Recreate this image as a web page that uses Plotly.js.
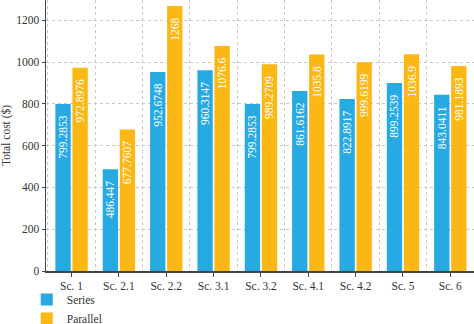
<!DOCTYPE html>
<html>
<head>
<meta charset="utf-8">
<script src="https://cdn.plot.ly/plotly-3.0.1.min.js"></script>
<style>html,body{margin:0;padding:0;background:#fff}#chart{width:474px;height:324px}</style>
</head>
<body>
<div id="chart"></div>
<script>
const categories = ["Sc. 1","Sc. 2.1","Sc. 2.2","Sc. 3.1","Sc. 3.2","Sc. 4.1","Sc. 4.2","Sc. 5","Sc. 6"];
const seriesValues = [799.2853, 486.447, 952.6748, 960.3147, 799.2853, 861.6162, 822.8917, 899.2539, 843.0411];
const parallelValues = [972.8976, 677.7607, 1268, 1076.6, 989.2709, 1035.8, 999.6199, 1036.9, 981.1893];
const yTicks = [0, 200, 400, 600, 800, 1000, 1200];

const idx = categories.map((_, i) => i);
const serif = "Liberation Serif, Times New Roman, serif";
const pad = "\u00a0\u00a0\u00a0";

const common = {
  type: "bar",
  x: idx,
  textposition: "inside",
  insidetextanchor: "end",
  textangle: -90,
  constraintext: "none",
  textfont: {family: serif, size: 11.5, color: "#ffffff"},
  hoverinfo: "none"
};

const traces = [
  Object.assign({}, common, {
    name: "Series",
    y: seriesValues,
    text: seriesValues.map(v => String(v) + pad),
    marker: {color: "#27a9e1"}
  }),
  Object.assign({}, common, {
    name: "Parallel",
    y: parallelValues,
    text: parallelValues.map(v => String(v) + pad),
    marker: {color: "#fbb814"}
  })
];

const layout = {
  width: 474, height: 324,
  margin: {l: 46, r: 0, t: 0, b: 53, autoexpand: false},
  paper_bgcolor: "#fff", plot_bgcolor: "#fff",
  barmode: "group",
  bargap: 0.28,
  bargroupgap: 0.1,
  font: {family: serif, size: 11, color: "#333"},
  showlegend: true,
  legend: {
    x: -0.045, y: -0.052, xanchor: "left", yanchor: "top",
    orientation: "v",
    font: {family: serif, size: 11.5, color: "#333"},
    itemwidth: 30,
    tracegroupgap: 0,
    borderwidth: 0,
    bgcolor: "rgba(0,0,0,0)"
  },
  xaxis: {
    range: [-0.54, 8.5],
    tickvals: idx,
    ticktext: categories,
    showgrid: false,
    zeroline: false,
    showline: true, linecolor: "#444", linewidth: 1.5,
    ticks: "outside", ticklen: 4, tickcolor: "#444",
    tickfont: {family: serif, size: 11.5, color: "#333"},
    minor: {tick0: 0.5, dtick: 1, showgrid: true, gridcolor: "#c8c8c8", griddash: "dot", gridwidth: 1, ticks: ""}
  },
  yaxis: {
    range: [0, 1297],
    tickvals: yTicks,
    showgrid: true, gridcolor: "#c8c8c8", griddash: "dot", gridwidth: 1,
    zeroline: false,
    showline: true, linecolor: "#444", linewidth: 1.5,
    ticks: "outside", ticklen: 3, tickcolor: "#444",
    tickfont: {family: serif, size: 11.5, color: "#333"},
    title: {text: "Total cost ($)", font: {family: serif, size: 11.5, color: "#333"}, standoff: 6}
  }
};

Plotly.newPlot("chart", traces, layout, {staticPlot: true, displayModeBar: false});
</script>
</body>
</html>
